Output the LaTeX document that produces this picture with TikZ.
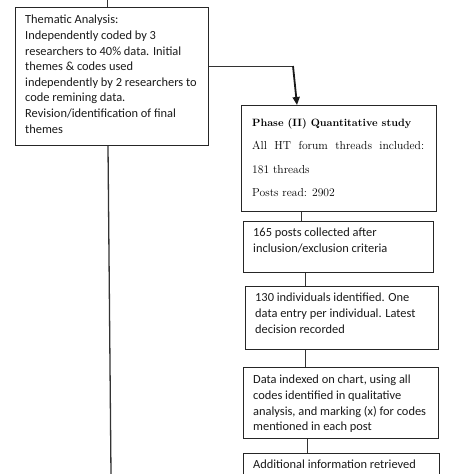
\documentclass[tikz,border=0pt]{standalone}
\usepackage{fontspec}
\setmainfont{Carlito}
\newfontfamily\serifpart{Latin Modern Roman}
\usetikzlibrary{arrows.meta}
\begin{document}
\begin{tikzpicture}[x=1pt,y=-1pt,
  box/.style={draw=black!85, line width=1.1pt, inner sep=0pt, anchor=north west},
  txt/.style={inner sep=0pt, anchor=north west, align=left, font=\fontsize{12.4}{15.6}\selectfont, text=black!90},
  serifbox/.style={inner sep=0pt, anchor=north west, align=left, font=\serifpart\fontsize{11.6}{23.5}\selectfont, text=black},
  link/.style={draw=black!80, line width=1pt},
  arrowlink/.style={draw=black!90, line width=1.8pt, -{Triangle[length=8pt,width=7pt]}}]
\useasboundingbox (0,0) rectangle (474,474);
% boxes
\node[box, minimum width=193, minimum height=138] (b1) at (15,7) {};
\node[box, minimum width=195, minimum height=106] (b2) at (241,105) {};
\node[box, minimum width=190, minimum height=51] (b3) at (243,221) {};
\node[box, minimum width=193, minimum height=63] (b4) at (245,286) {};
\node[box, minimum width=195, minimum height=71] (b5) at (243,367) {};
\node[box, minimum width=196, minimum height=40] (b6) at (243,453) {};
% texts
\node[txt] (t1) at (25,15) {Thematic Analysis:\\Independently coded by 3\\researchers to 40\% data. Initial\\themes \& codes used\\independently by 2 researchers to\\code remining data.\\Revision/identification of final\\themes};
\node[serifbox] (t2) at (252,118) {{\fontsize{10.6}{23.5}\selectfont\textbf{Phase (II) Quantitative study}}\\\makebox[172pt][s]{All HT forum threads included:}\\181 threads\\Posts read: 2902};
\node[txt] (t3) at (253,228) {165 posts collected after\\inclusion/exclusion criteria};
\node[txt] (t4) at (255,293) {130 individuals identified. One\\data entry per individual. Latest\\decision recorded};
\node[txt] (t5) at (253,375) {Data indexed on chart, using all\\codes identified in qualitative\\analysis, and marking (x) for codes\\mentioned in each post};
\node[txt] (t6) at (253,460) {Additional information retrieved};
% connectors
\coordinate (topend) at (107,0);
\draw[link] (topend) -- (topend |- b1.north);
\coordinate (bx) at (108,0);
\coordinate (botend) at (111,474);
\draw[link, line width=1.3pt] (bx |- b1.south) -- (botend);
\coordinate (elb) at (293,66);
\draw[link] (b1.east |- elb) -- (elb);
\coordinate (ax) at (297,0);
\draw[arrowlink] (elb) -- (ax |- b2.north);
\coordinate (c1) at (301,0);
\draw[link] (c1 |- b2.south) -- (c1 |- b3.north);
\coordinate (c2) at (305,0);
\draw[link] (c2 |- b3.south) -- (c2 |- b4.north);
\draw[link] (c2 |- b4.south) -- (c2 |- b5.north);
\coordinate (c3) at (307,0);
\draw[link] (c3 |- b5.south) -- (c3 |- b6.north);
\end{tikzpicture}
\end{document}
